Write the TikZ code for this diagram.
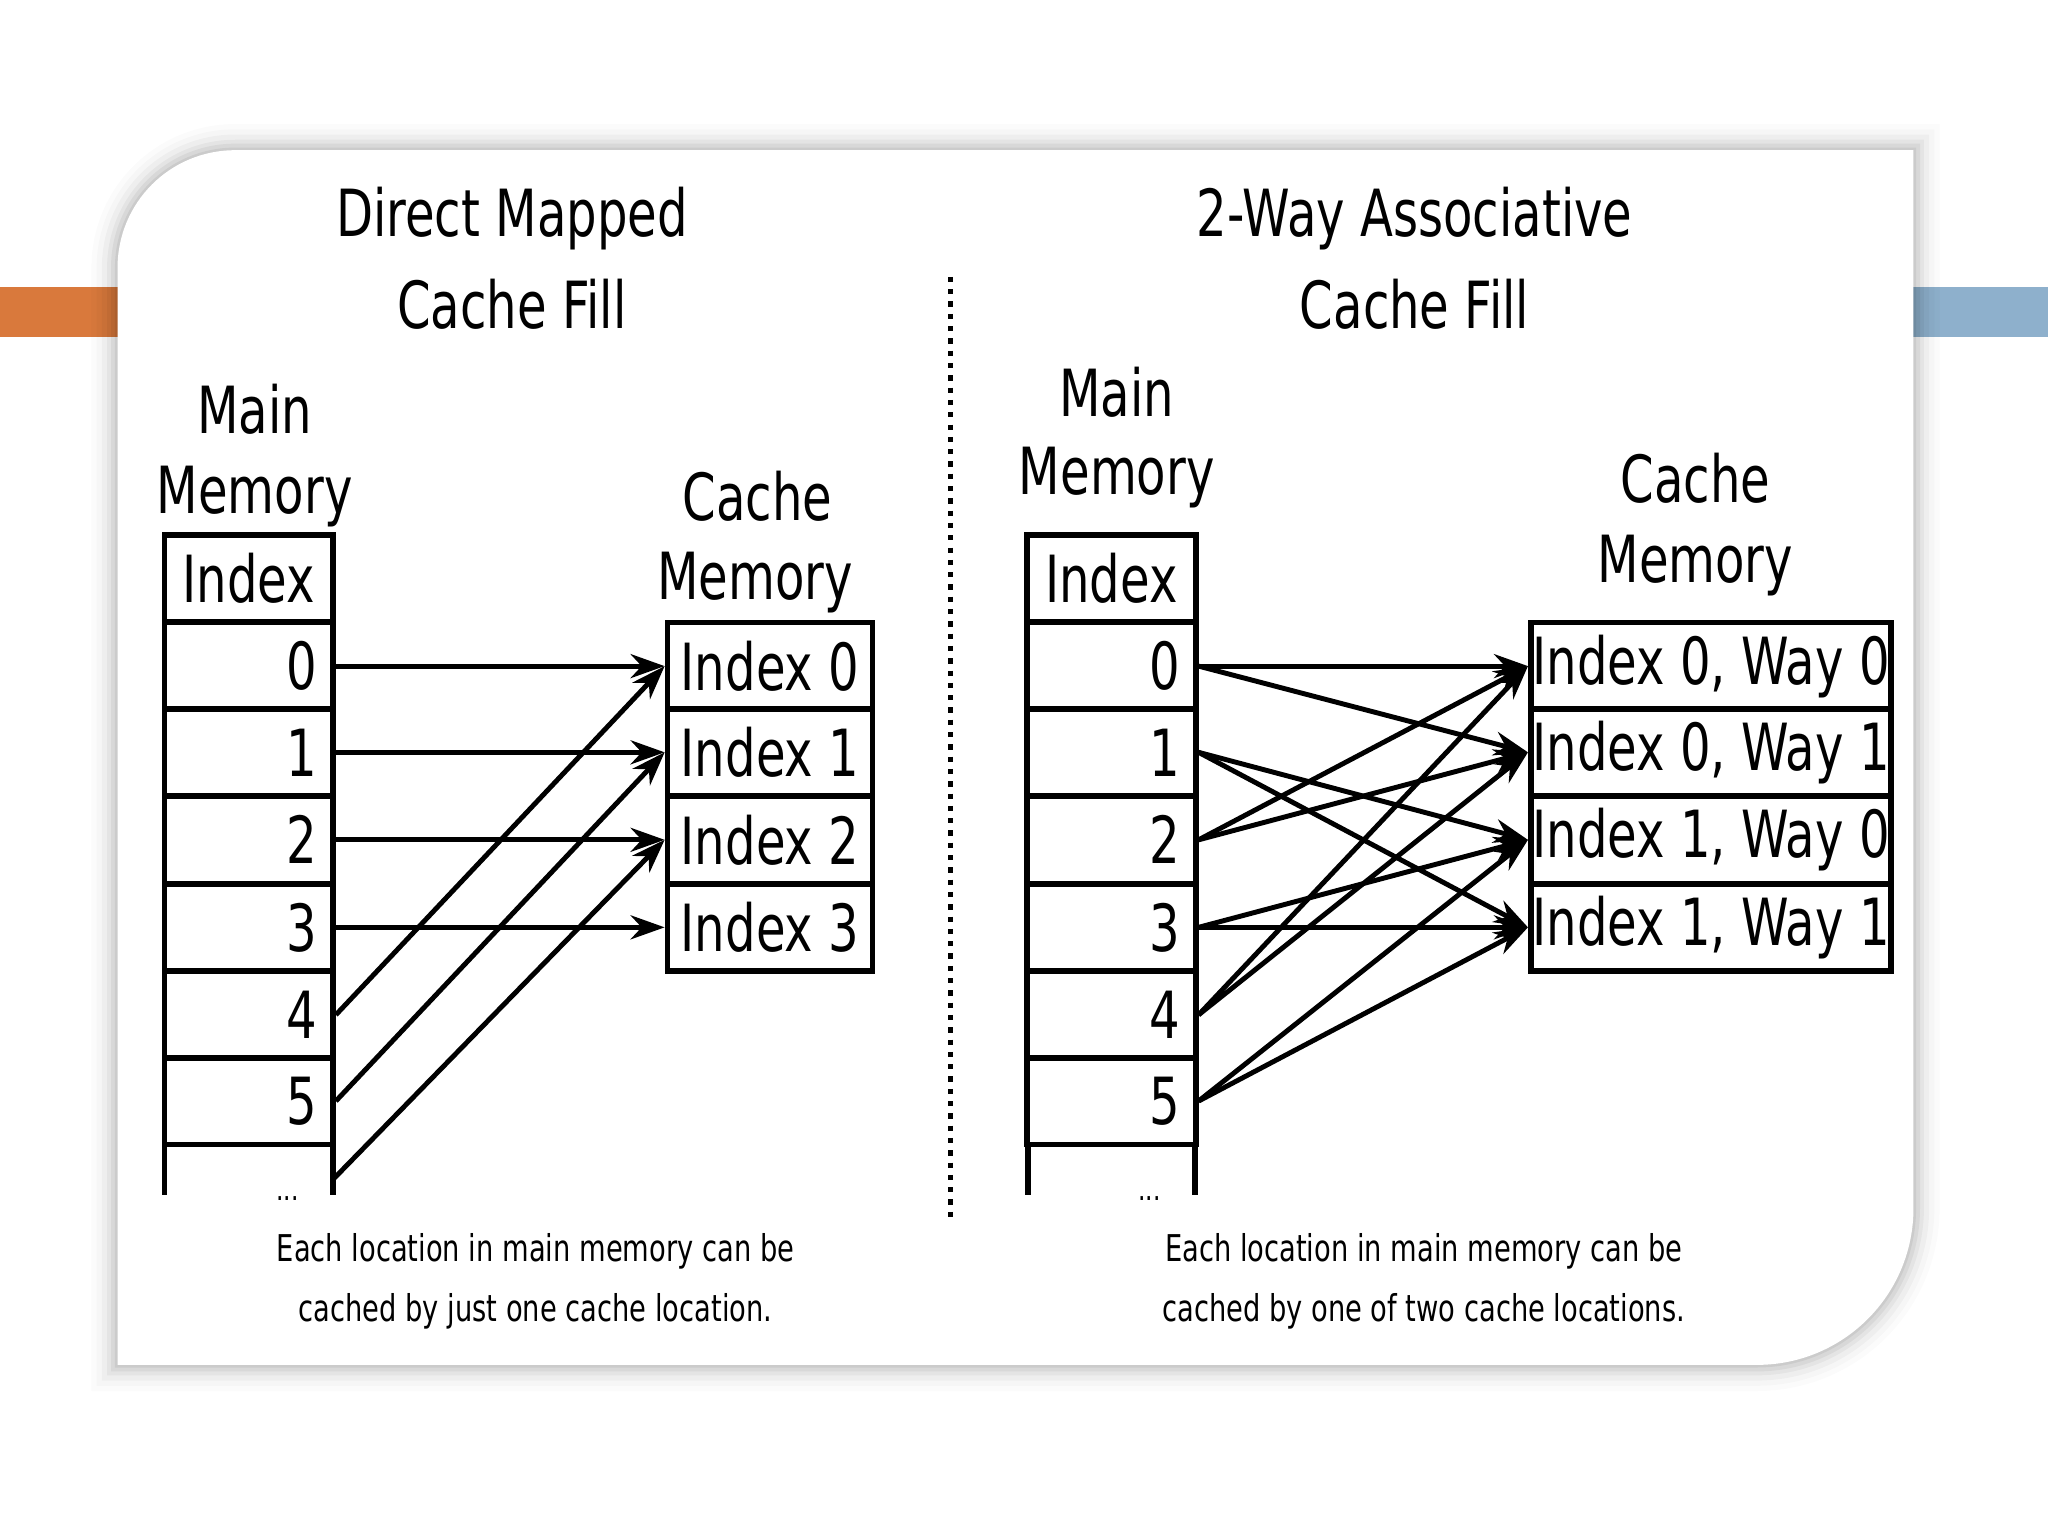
\documentclass[tikz,border=0pt]{standalone}
\usepackage{fontspec}
\setmainfont{DejaVu Sans}[FakeStretch=0.74]
\usetikzlibrary{arrows.meta}
\def\u{0.013061cm}
\definecolor{obar}{HTML}{D9793C}
\definecolor{bbar}{HTML}{8EB0CC}
\tikzset{
 big/.style={font=\fontsize{18.5}{22}\selectfont},
 small/.style={font=\fontsize{10.5}{12}\selectfont},
 mcell/.style={draw,line width=1.6pt,minimum width=129*\u,minimum height=66.7*\u,inner sep=0pt,big,text width=105*\u,align=right},
 hcell/.style={draw,line width=1.6pt,minimum width=129*\u,minimum height=66.7*\u,inner sep=0pt,big},
 ccell/.style={draw,line width=1.6pt,minimum height=66.7*\u,inner sep=0pt,big},
 arr/.style={line width=1.4pt,-{Stealth[length=0.34cm,width=0.24cm]}},
}
\begin{document}
\begin{tikzpicture}[x=0.013061cm,y=-0.013061cm]
\useasboundingbox (0,0) rectangle (1568,1176);
\fill[white] (0,0) rectangle (1568,1176);
\fill[obar] (0,220) rectangle (92,258);
\fill[bbar] (1465,220) rectangle (1568,258);
\foreach \d/\o in {20/0.015,16/0.02,12/0.03,8/0.04,5/0.05,2/0.06}{
 \fill[black,opacity=\o] (90-\d,1045+\d) -- (90-\d,205) to[out=90,in=180] (180,115-\d) -- (1465+\d,115-\d) -- (1465+\d,925) to[out=-90,in=0] (1345,1045+\d) -- cycle;}
\fill[white] (90,1045) -- (90,205) to[out=90,in=180] (180,115) -- (1465,115) -- (1465,925) to[out=-90,in=0] (1345,1045) -- cycle;

% titles
\node[big] at (392,167) {Direct Mapped};
\node[big] at (392,233) {Cache Fill};
\node[big] at (1083,167) {2-Way Associative};
\node[big] at (1083,233) {Cache Fill};
\node[big] at (195,313) {Main};
\node[big] at (195,380) {Memory};
\node[big] at (580,380) {Cache};
\node[big] at (578,446) {Memory};
\node[big] at (855,300) {Main};
\node[big] at (855,366) {Memory};
\node[big] at (1298,366) {Cache};
\node[big] at (1298,433) {Memory};

\draw[line width=1.5pt,dotted] (728,212) -- (728,935);

% left main memory
\node[hcell] (lh) at (190.5,443) {Index};
\foreach \i/\y in {0/510,1/576,2/643,3/710,4/777,5/843}{
 \node[mcell] (l\i) at (190.5,\y) {\i};}
\draw[line width=1.6pt] (126,876) -- (126,915) (255,876) -- (255,915);
\coordinate (l6) at (255,903);
\node[font=\fontsize{9}{10}\selectfont] at (220,918) {...};
% left cache
\foreach \i/\y in {0/510,1/576,2/643,3/710}{
 \node[ccell,minimum width=157*\u] (c\i) at (589.5,\y) {Index \i};}
\foreach \i in {0,1,2,3}{\draw[arr] (l\i.east) -- (c\i.west);}
\draw[arr] (l4.east) -- (c0.west);
\draw[arr] (l5.east) -- (c1.west);
\draw[arr] (l6) -- (c2.west);

% right main memory
\node[hcell] (rh) at (851,443) {Index};
\foreach \i/\y in {0/510,1/576,2/643,3/710,4/777,5/843}{
 \node[mcell] (r\i) at (851,\y) {\i};}
\draw[line width=1.6pt] (787,876) -- (787,915) (915,876) -- (915,915);
\node[font=\fontsize{9}{10}\selectfont] at (880,918) {...};
% right cache
\tikzset{wc/.style={ccell,minimum width=276*\u}}
\node[wc] (w0) at (1310,510) {Index 0, Way 0};
\node[wc] (w1) at (1310,576) {Index 0, Way 1};
\node[wc] (w2) at (1310,643) {Index 1, Way 0};
\node[wc] (w3) at (1310,710) {Index 1, Way 1};
\foreach \s in {0,2,4}{\draw[arr] (r\s.east) -- (w0.west); \draw[arr] (r\s.east) -- (w1.west);}
\foreach \s in {1,3,5}{\draw[arr] (r\s.east) -- (w2.west); \draw[arr] (r\s.east) -- (w3.west);}

% captions
\node[small] at (410,958) {Each location in main memory can be};
\node[small] at (410,1004) {cached by just one cache location.};
\node[small] at (1090,958) {Each location in main memory can be};
\node[small] at (1090,1004) {cached by one of two cache locations.};
\end{tikzpicture}
\end{document}
